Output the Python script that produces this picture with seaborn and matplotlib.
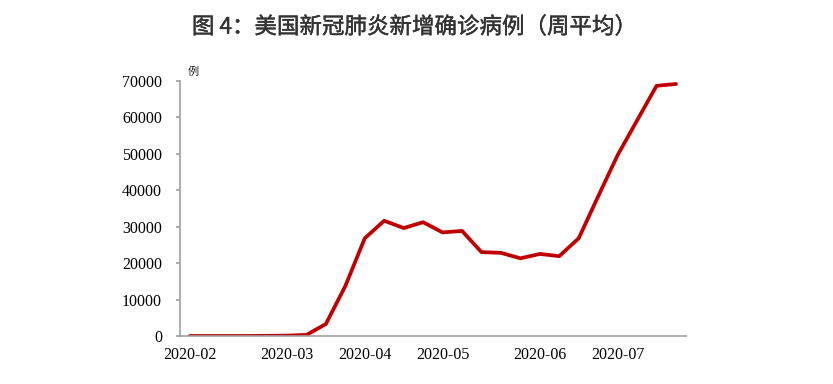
import matplotlib
matplotlib.use("Agg")
import matplotlib.pyplot as plt
import matplotlib.patheffects as pe
import seaborn as sns
import pandas as pd
import numpy as np

# Weekly average new confirmed cases (US)
weeks = list(range(26))
cases = [0, 0, 0, 0, 50, 100, 300, 3300, 13700, 26800, 31600, 29600, 31200,
         28400, 28800, 23000, 22800, 21300, 22500, 21900, 26800, 38300,
         49600, 59100, 68600, 69100]
tick_pos = [0, 5, 9, 13, 18, 22]
tick_labels = ["2020-02", "2020-03", "2020-04", "2020-05", "2020-06", "2020-07"]
y_ticks = [0, 10000, 20000, 30000, 40000, 50000, 60000, 70000]
title = "图 4：美国新冠肺炎新增确诊病例（周平均）"
unit = "例"

sns.set_theme(style="white")
plt.rcParams['font.family'] = ['Noto Sans CJK SC', 'DejaVu Sans']

df = pd.DataFrame({"week": weeks, "cases": cases})

fig = plt.figure(figsize=(8.33, 3.84), dpi=100)
ax = fig.add_axes([180/833, 48/384, (685.7-180)/833, (336-80.7)/384])
sns.lineplot(data=df, x="week", y="cases", ax=ax, color="#C00000", linewidth=2.7)

ax.set_xlim(-0.5, 25.5)
ax.set_ylim(0, 70000)
ax.set_xticks(tick_pos)
ax.set_xticklabels(tick_labels, family=['Liberation Serif'], fontsize=11.5, color="black")
ax.set_yticks(y_ticks)
ax.set_yticklabels([str(v) for v in y_ticks], family=['Liberation Serif'], fontsize=11.5, color="black")
ax.set_xlabel("")
ax.set_ylabel("")

for s in ["top", "right"]:
    ax.spines[s].set_visible(False)
for s in ["left", "bottom"]:
    ax.spines[s].set_color("#A0A0A0")
    ax.spines[s].set_linewidth(1.2)

ax.tick_params(axis="y", which="both", direction="out", length=3, width=1.2, color="#A0A0A0", pad=10, left=True)
ax.tick_params(axis="x", which="both", length=0, pad=8, bottom=False)

fig.text(188/833, 1 - 72/384, unit, fontsize=8, color="#222222", ha="left", va="center",
         family=['Noto Sans CJK SC', 'DejaVu Sans'])
fig.text(414.5/833, 1 - 27/384, title, fontsize=16.2, color="#333333", ha="center", va="center",
         family=['Noto Sans CJK SC', 'DejaVu Sans'],
         path_effects=[pe.withStroke(linewidth=0.3, foreground="#333333")])

fig.savefig("out.png", dpi=100)
